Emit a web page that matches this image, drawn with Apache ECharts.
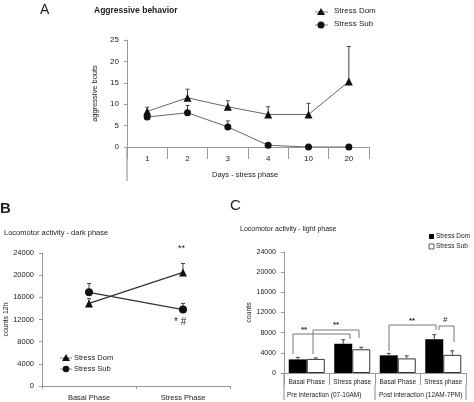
<!DOCTYPE html><html><head><meta charset="utf-8">
<script src="https://cdn.jsdelivr.net/npm/echarts@6/dist/echarts.min.js"></script>
<style>html,body{margin:0;background:#fff}#c{width:474px;height:402px}</style></head><body><div id="c"></div><script>
const daysA=['1','2','3','4','10','20'];
const domA=[8.3,11.5,9.4,7.6,7.6,15.3], domAErr=[1.0,2.0,1.4,1.8,2.6,8.2];
const subA=[7.0,8.0,4.7,0.4,0,0], subAErr=[0.5,1.7,1.4,0,0,0];
const phasesB=['Basal Phase','Stress Phase'];
const domB=[14900,20500], domBErr=[900,1600];
const subB=[16900,13800], subBErr=[1600,1100];
const catsC=['Basal Phase','Stress phase','Basal Phase','Stress phase'];
const domC=[2700,5800,3500,6700], domCErr=[400,800,400,900];
const subC=[2800,4700,2900,3600], subCErr=[200,400,500,800];
const F='Liberation Sans, Arial, sans-serif';
function errSeries(xi,yi,vals,errs,off){
  return {type:'custom',xAxisIndex:xi,yAxisIndex:yi,z:1,silent:true,
    data:vals.map((v,i)=>[i,v,errs[i]]),
    renderItem:(p,api)=>{const a=api.coord([api.value(0),api.value(1)]);const b=api.coord([api.value(0),api.value(1)+api.value(2)]);
      const x=a[0]+(off||0);
      return {type:'group',children:[
        {type:'line',shape:{x1:x,y1:a[1],x2:x,y2:b[1]},style:{stroke:'#444',lineWidth:1}},
        {type:'line',shape:{x1:x-2,y1:b[1],x2:x+2,y2:b[1]},style:{stroke:'#444',lineWidth:1}}]};}};
}
const fmt=v=>String(v);
const ax={axisLine:{show:true,lineStyle:{color:'#999'}},axisTick:{show:true,lineStyle:{color:'#999'},length:3},axisLabel:{fontSize:8,color:'#222',fontFamily:F},splitLine:{show:false}};
const chart=echarts.init(document.getElementById('c'));
const T=(l,t,txt,o)=>Object.assign({type:'text',left:l,top:t,style:{text:txt,fontSize:7,fill:'#222',fontFamily:F}},o||{});
const L=(x1,y1,x2,y2)=>({type:'line',shape:{x1,y1,x2,y2},style:{stroke:'#888',lineWidth:1}});
chart.setOption({animation:false,
 grid:[{left:127,top:40,width:242,height:107},{left:42,top:253,width:188,height:133},{left:284,top:252,width:182,height:121}],
 xAxis:[
  Object.assign({},ax,{gridIndex:0,type:'category',data:daysA,axisTick:{show:true,length:12,lineStyle:{color:'#999'}},axisLabel:{fontSize:8,color:'#222',margin:8}}),
  Object.assign({},ax,{gridIndex:1,type:'category',data:phasesB,axisTick:{show:true,length:3,lineStyle:{color:'#999'}},axisLabel:{fontSize:7.5,color:'#222',margin:8}}),
  Object.assign({},ax,{gridIndex:2,type:'category',data:catsC,axisTick:{show:true,length:12,lineStyle:{color:'#999'}},axisLabel:{fontSize:6.5,color:'#222',margin:6,interval:0}})],
 yAxis:[
  Object.assign({},ax,{gridIndex:0,type:'value',min:0,max:25,interval:5,name:'aggressive bouts',nameLocation:'middle',nameGap:18,nameTextStyle:{fontSize:7.5,color:'#222'}}),
  Object.assign({},ax,{gridIndex:1,type:'value',min:0,max:24000,interval:4000,axisLabel:{fontSize:7.5,color:'#222',formatter:fmt},name:'counts 12h',nameLocation:'middle',nameGap:30,nameTextStyle:{fontSize:7,color:'#222'}}),
  Object.assign({},ax,{gridIndex:2,type:'value',min:0,max:24000,interval:4000,axisLabel:{fontSize:7,color:'#222',formatter:fmt},name:'counts',nameLocation:'middle',nameGap:30,nameTextStyle:{fontSize:7,color:'#222'}})],
 series:[
  errSeries(0,0,domA,domAErr),errSeries(0,0,subA,subAErr),
  {type:'line',name:'Stress Dom',xAxisIndex:0,yAxisIndex:0,data:domA,symbol:'triangle',symbolSize:8,color:'#111',lineStyle:{width:1,color:'#666'},z:3},
  {type:'line',name:'Stress Sub',xAxisIndex:0,yAxisIndex:0,data:subA,symbol:'circle',symbolSize:7,color:'#111',lineStyle:{width:1,color:'#666'},z:3},
  errSeries(1,1,domB,domBErr),errSeries(1,1,subB,subBErr),
  {type:'line',xAxisIndex:1,yAxisIndex:1,data:domB,symbol:'triangle',symbolSize:8,color:'#111',lineStyle:{width:1.3,color:'#333'},z:3},
  {type:'line',xAxisIndex:1,yAxisIndex:1,data:subB,symbol:'circle',symbolSize:8,color:'#111',lineStyle:{width:1.3,color:'#333'},z:3},
  {type:'bar',xAxisIndex:2,yAxisIndex:2,data:domC,barWidth:18,barGap:'0%',itemStyle:{color:'#000'}},
  {type:'bar',xAxisIndex:2,yAxisIndex:2,data:subC,barWidth:18,barGap:'0%',itemStyle:{color:'#fff',borderColor:'#333',borderWidth:1}},
  errSeries(2,2,domC,domCErr,-9),errSeries(2,2,subC,subCErr,9)],
 graphic:[
  T(40,3,'A',{style:{text:'A',fontSize:14,fill:'#222',fontFamily:F}}),
  T(94,6,'Aggressive behavior',{style:{text:'Aggressive behavior',fontSize:8.5,fontWeight:'bold',fill:'#222',fontFamily:F}}),
  L(315,12,328,12),{type:'polygon',shape:{points:[[321,8],[317,15],[325,15]]},style:{fill:'#111'}},T(334,7,'Stress Dom',{style:{text:'Stress Dom',fontSize:8,fill:'#222',fontFamily:F}}),
  L(315,25,328,25),{type:'circle',shape:{cx:321,cy:25,r:3.5},style:{fill:'#111'}},T(334,20,'Stress Sub',{style:{text:'Stress Sub',fontSize:8,fill:'#222',fontFamily:F}}),
  L(127,147,127,181),
  T(212,171,'Days - stress phase',{style:{text:'Days - stress phase',fontSize:7.5,fill:'#222',fontFamily:F}}),
  T(0,201,'B',{style:{text:'B',fontSize:15,fontWeight:'bold',fill:'#222',fontFamily:F}}),
  T(4,229,'Locomotor activity - dark phase',{style:{text:'Locomotor activity - dark phase',fontSize:7.5,fill:'#222',fontFamily:F}}),
  T(178,244,'**',{style:{text:'**',fontSize:9,fill:'#222',fontFamily:F}}),
  T(174,317,'* #',{style:{text:'* #',fontSize:10,fill:'#222',fontFamily:F}}),
  L(60,358,72,358),{type:'polygon',shape:{points:[[66,354],[62,361],[70,361]]},style:{fill:'#111'}},T(74,354,'Stress Dom',{style:{text:'Stress Dom',fontSize:7.5,fill:'#222',fontFamily:F}}),
  L(60,369,72,369),{type:'circle',shape:{cx:66,cy:369,r:3.3},style:{fill:'#111'}},T(74,365,'Stress Sub',{style:{text:'Stress Sub',fontSize:7.5,fill:'#222',fontFamily:F}}),
  T(230,198,'C',{style:{text:'C',fontSize:15,fill:'#222',fontFamily:F}}),
  T(240,226,'Locomotor activity - light phase',{style:{text:'Locomotor activity - light phase',fontSize:7,fill:'#222',fontFamily:F}}),
  {type:'rect',shape:{x:429,y:234,width:5,height:5},style:{fill:'#000'}},T(436,233,'Stress Dom',{style:{text:'Stress Dom',fontSize:6.5,fill:'#222',fontFamily:F}}),
  {type:'rect',shape:{x:429,y:244,width:5,height:5},style:{fill:'#fff',stroke:'#333',lineWidth:0.8}},T(436,243,'Stress Sub',{style:{text:'Stress Sub',fontSize:6.5,fill:'#222',fontFamily:F}}),
  L(284,373,284,400),L(375,385,375,400),L(466,385,466,400),
  T(287,392,'Pre interaction (07-10AM)',{style:{text:'Pre interaction (07-10AM)',fontSize:6.5,fill:'#222',fontFamily:F}}),
  T(379,392,'Post interaction (12AM-7PM)',{style:{text:'Post interaction (12AM-7PM)',fontSize:6.5,fill:'#222',fontFamily:F}}),
  {type:'polyline',shape:{points:[[293,354],[293,334],[350,334],[350,339]]},style:{stroke:'#777',fill:null,lineWidth:1}},
  {type:'polyline',shape:{points:[[313,354],[313,330],[359,330],[359,338]]},style:{stroke:'#777',fill:null,lineWidth:1}},
  {type:'polyline',shape:{points:[[389,351],[389,325],[436,325],[436,330]]},style:{stroke:'#777',fill:null,lineWidth:1}},
  {type:'polyline',shape:{points:[[439,330],[439,326],[454,326],[454,342]]},style:{stroke:'#777',fill:null,lineWidth:1}},
  T(301,326,'**',{style:{text:'**',fontSize:8,fontWeight:'bold',fill:'#222',fontFamily:F}}),
  T(333,321,'**',{style:{text:'**',fontSize:8,fontWeight:'bold',fill:'#222',fontFamily:F}}),
  T(409,317,'**',{style:{text:'**',fontSize:8,fontWeight:'bold',fill:'#222',fontFamily:F}}),
  T(443,316,'#',{style:{text:'#',fontSize:8,fill:'#222',fontFamily:F}})
 ]});
</script></body></html>
